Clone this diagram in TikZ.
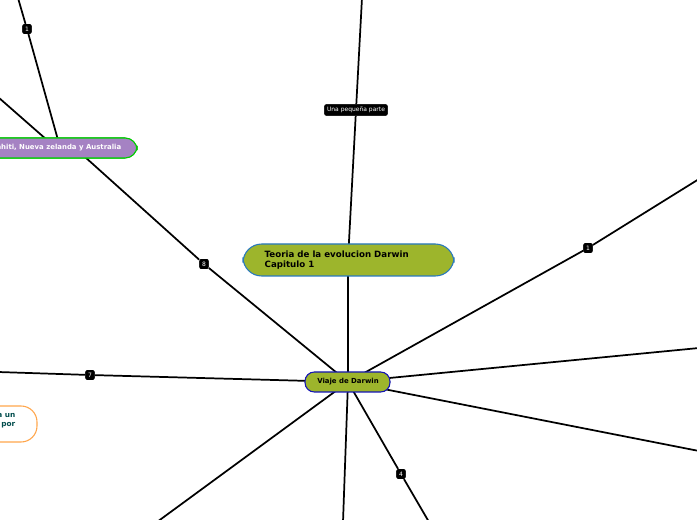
\documentclass[tikz,border=0pt]{standalone}
\usepackage{fontspec}
\setmainfont{DejaVu Sans}
\begin{document}
\begin{tikzpicture}[x=0.75pt,y=-0.75pt,
 lbl/.style={fill=black,text=white,rounded corners=1.5pt,font=\fontsize{4.5}{5}\selectfont,inner sep=2pt},
 ln/.style={line width=1.3pt}]
\useasboundingbox (0,0) rectangle (697,520);
\clip (0,0) rectangle (697,520);
\fill[white] (0,0) rectangle (697,520);
\coordinate (c) at (348,382);
\coordinate (t) at (348,260);
\coordinate (p) at (75,148);
\coordinate (e1) at (362,-2); \coordinate (e2) at (699,179);
\coordinate (e3) at (699,348); \coordinate (e4) at (699,451);
\coordinate (e5) at (429,522); \coordinate (e6) at (343,522);
\coordinate (e7) at (157,522); \coordinate (e8) at (-2,372);
\coordinate (e9) at (-2,97); \coordinate (e10) at (18,-2);
\node[lbl] (l0) at (356,110) {Una pequeña parte};
\node[lbl] (l1) at (588,248) {1};
\node[lbl] (l4) at (401,474) {4};
\node[lbl] (l7) at (90,375) {7};
\node[lbl] (l8) at (204,264) {8};
\node[lbl] (l1b) at (27,29) {1};
\begin{scope}[on background layer/.style={}]
\draw[ln] (c)--(t); \draw[ln] (t)--(l0)--(e1);
\draw[ln] (c)--(l1)--(e2); \draw[ln] (c)--(e3); \draw[ln] (c)--(e4);
\draw[ln] (c)--(l4)--(e5); \draw[ln] (c)--(e6); \draw[ln] (c)--(e7);
\draw[ln] (c)--(l7)--(e8); \draw[ln] (c)--(l8)--(p);
\draw[ln] (47,140)--(e9); \draw[ln] (58,140)--(l1b)--(e10);
\end{scope}
\node[lbl] at (356,110) {Una pequeña parte};
\node[lbl] at (588,248) {1};
\node[lbl] at (401,474) {4};
\node[lbl] at (90,375) {7};
\node[lbl] at (204,264) {8};
\node[lbl] at (27,29) {1};
\filldraw[fill=white,draw=orange!70,line width=0.8pt,rounded corners=12pt] (-40,406) rectangle (37,442);
\node[anchor=east,font=\bfseries\fontsize{5.5}{6.5}\selectfont,text=teal!60!black,align=right] at (20,421) {a un\\, por};
\filldraw[fill=violet!45!gray!60!white,draw=green!80!black,line width=0.8pt,rounded corners=9pt] (-20,138) rectangle (137,158);
\filldraw[fill={rgb,255:red,165;green,130;blue,195},draw=green!80!black,line width=0.8pt,rounded corners=9pt] (-20,138) rectangle (137,158);
\node[anchor=east,text=white,font=\bfseries\fontsize{5.2}{6}\selectfont] at (126,148) {Tahiti, Nueva zelanda y Australia};
\filldraw[fill={rgb,255:red,157;green,181;blue,44},draw={rgb,255:red,40;green,120;blue,190},line width=0.8pt,rounded corners=14pt] (243,244) rectangle (454,276);
\node[anchor=west,align=left,font=\bfseries\fontsize{6.5}{7.5}\selectfont] at (260,260) {Teoria de la evolucion Darwin\\Capitulo 1};
\filldraw[fill={rgb,255:red,157;green,181;blue,44},draw={rgb,255:red,20;green,20;blue,180},line width=0.8pt,rounded corners=7pt] (305,372) rectangle (390,392);
\node[font=\bfseries\fontsize{5.2}{6}\selectfont] (v) at (348,382) {Viaje de Darwin};
\end{tikzpicture}
\end{document}
